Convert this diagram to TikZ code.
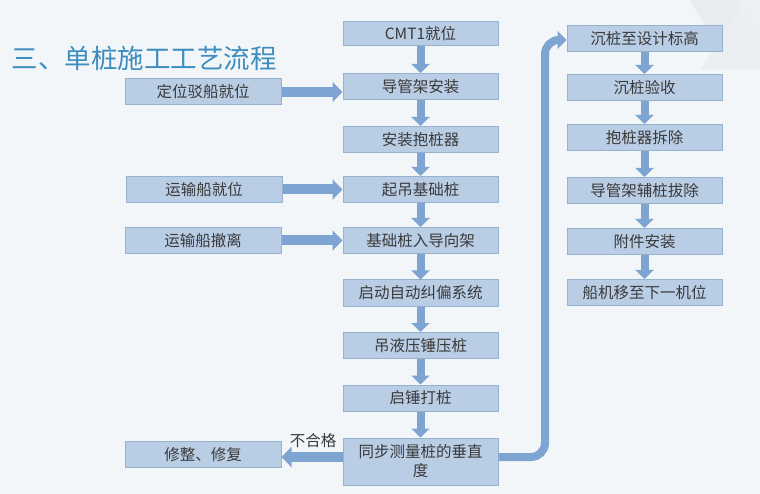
\documentclass[tikz,border=0pt]{standalone}
\usepackage{fontspec}
\newfontfamily\cjk{Noto Sans CJK SC}
\usetikzlibrary{arrows.meta}
\definecolor{bgc}{HTML}{F3F6F9}
\definecolor{trc}{HTML}{E8ECF0}
\definecolor{boxfill}{HTML}{B9CDE5}
\definecolor{boxline}{HTML}{97B1D0}
\definecolor{arrowc}{HTML}{7EA5D1}
\definecolor{titlec}{HTML}{3D8DC0}
\definecolor{txtc}{HTML}{3A3A3A}
\tikzset{
  x=1pt, y=-1pt,
  box/.style={draw=boxline, line width=1pt, fill=boxfill, minimum width=155pt, minimum height=26pt,
    inner sep=0pt, font=\cjk\fontsize{15.5}{19}\selectfont, text=txtc, align=center},
  fatv/.style={draw=arrowc, line width=8pt, -{Triangle[width=18pt,length=9pt,fill=arrowc]}},
  fath/.style={draw=arrowc, line width=10pt, -{Triangle[width=20pt,length=10pt,fill=arrowc]}},
  link/.style={draw=arrowc, line width=8pt, -{Triangle[width=18pt,length=9pt,fill=arrowc]}},
}
\begin{document}
\begin{tikzpicture}
\fill[bgc] (0,0) rectangle (760,494);
\useasboundingbox (0,0) rectangle (760,494);
% faint triangles top right
\fill[trc] (690,0) -- (760,0) -- (725,60) -- cycle;
\fill[trc!60!bgc] (735,0) -- (760,0) -- (760,45) -- cycle;
\fill[trc!70!bgc] (700,70) -- (740,10) -- (760,40) -- (760,70) -- cycle;

\node[anchor=west, font=\cjk\fontsize{26.5}{30}\selectfont, text=titlec] (title) at (8,58) {三、单桩施工工艺流程};

% middle column
\node[box, minimum height=24pt] (m1) at (420.5,34) {CMT1就位};
\node[box] (m2) at (420.5,86.5) {导管架安装};
\node[box] (m3) at (420.5,139.5) {安装抱桩器};
\node[box] (m4) at (420.5,189.5) {起吊基础桩};
\node[box] (m5) at (420.5,240.5) {基础桩入导向架};
\node[box] (m6) at (420.5,293) {启动自动纠偏系统};
\node[box] (m7) at (420.5,345.5) {吊液压锤压桩};
\node[box] (m8) at (420.5,398) {启锤打桩};
\node[box, minimum height=47pt, text width=150pt] (m9) at (420.5,461.5) {同步测量桩的垂直\\度};

% left column
\node[box, minimum width=156pt] (l1) at (203,92) {定位驳船就位};
\node[box, minimum width=156pt] (l2) at (204,189.5) {运输船就位};
\node[box, minimum width=156pt] (l3) at (203,240.5) {运输船撤离};
\node[box, minimum width=156pt] (l4) at (203,454.5) {修整、修复};

% right column
\node[box] (r1) at (644.5,38.5) {沉桩至设计标高};
\node[box] (r2) at (644.5,87.5) {沉桩验收};
\node[box] (r3) at (644.5,137.5) {抱桩器拆除};
\node[box] (r4) at (644.5,190.5) {导管架辅桩拔除};
\node[box] (r5) at (644.5,241.5) {附件安装};
\node[box] (r6) at (644.5,292.5) {船机移至下一机位};

% vertical arrows middle
\foreach \a/\b in {m1/m2,m2/m3,m3/m4,m4/m5,m5/m6,m6/m7,m7/m8,m8/m9}
  \draw[fatv] (\a.south) -- (\b.north);
% vertical arrows right
\foreach \a/\b in {r1/r2,r2/r3,r3/r4,r4/r5,r5/r6}
  \draw[fatv] (\a.south) -- (\b.north);

% horizontal arrows from left
\draw[fath] (l1.east) -- (l1.east -| m2.west);
\draw[fath] (l2.east) -- (l2.east -| m4.west);
\draw[fath] (l3.east) -- (l3.east -| m5.west);

% fail arrow
\coordinate (f1) at (m9.west |- 0,457);
\draw[fath] (f1) -- (f1 -| l4.east);
\node[font=\cjk\fontsize{15.5}{19}\selectfont, text=txtc, anchor=south] (ng) at (313,451) {不合格};

% link to right column
\coordinate (c1) at (m9.east |- 0,457);
\coordinate (c2) at (545,457);
\coordinate (c3) at (545,40);
\draw[link, rounded corners=14pt] (c1) -- (c2) -- (c3) -- (c3 -| r1.west);
\end{tikzpicture}
\end{document}
